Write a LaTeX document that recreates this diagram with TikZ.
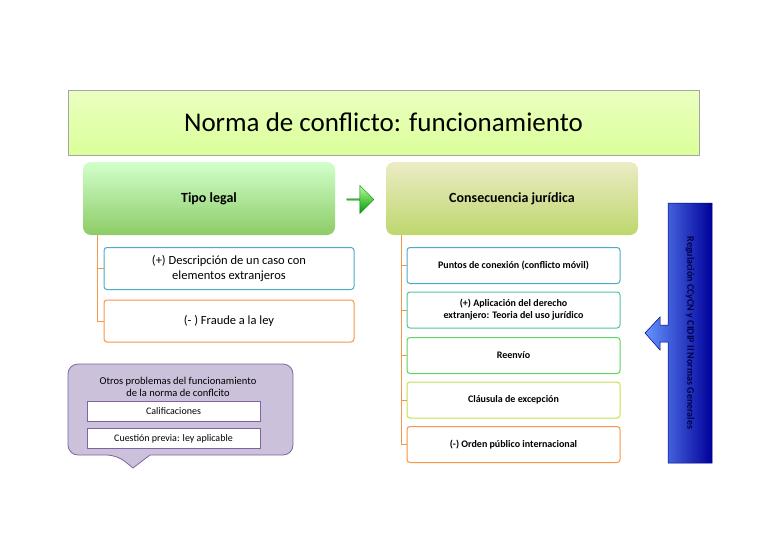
\documentclass[tikz,border=0pt]{standalone}
\usepackage{fontspec}
\setmainfont{Carlito}
\usetikzlibrary{shapes.arrows}
\definecolor{tl}{HTML}{4BACC6}
\definecolor{org}{HTML}{F79646}
\definecolor{gr}{HTML}{5CD65C}
\definecolor{tg}{HTML}{4FC79B}
\definecolor{yg}{HTML}{C6E04A}
\definecolor{pur}{HTML}{8064A2}
\tikzset{
 leaf/.style={draw, line width=1pt, rounded corners=3pt, fill=white, align=center, font=\bfseries\fontsize{10}{12}\selectfont},
 bigleaf/.style={leaf, font=\fontsize{12.5}{15}\selectfont, minimum width=250pt, minimum height=42pt},
 rleaf/.style={leaf, minimum width=213pt, minimum height=36pt},
 head/.style={rounded corners=8pt, minimum width=252pt, minimum height=73pt, font=\bfseries\fontsize{14}{17}\selectfont},
 tree/.style={org, line width=0.8pt},
 inbox/.style={draw=pur, fill=white, line width=0.8pt, minimum width=173pt, minimum height=20pt, font=\fontsize{10}{12}\selectfont}
}
\begin{document}
\begin{tikzpicture}[x=1pt,y=-1pt]
\useasboundingbox (0,0) rectangle (768,543);
\node[draw=black!35, top color=white!70!green!25!lime!30, bottom color=green!15!lime!40!white, minimum width=631pt, minimum height=65pt, font=\fontsize{27}{32}\selectfont] (title) at (383.5,122.5) {Norma de conflicto: funcionamiento};
\node[head, top color=lime!15!green!20!white, bottom color=lime!50!green!50!white!80!black] (tipo) at (209,198.5) {Tipo legal};
\node[head, top color=olive!15!white, bottom color=olive!35!white!90!green] (cons) at (512,198.5) {Consecuencia jurídica};
\node[single arrow, draw=green!50!black, top color=lime!40!green!40!white, bottom color=green!60!black, minimum height=27pt, minimum width=28pt, single arrow head extend=4pt, inner sep=0pt] (garr) at (360,199.5) {};
\node[bigleaf, draw=tl] (a1) at (229,268.5) {(+) Descripción de un caso con\\elementos extranjeros};
\node[bigleaf, draw=org, font=\fontsize{12.5}{15}\selectfont] (a2) at (229,321) {(- ) Fraude a la ley};
\coordinate (ta) at (97,235);
\draw[tree] (ta) |- (a2.west);
\draw[tree] (ta|-a1.west) -- (a1.west);
\node[rleaf, draw=tl] (b1) at (513.5,265.5) {Puntos de conexión (conflicto móvil)};
\node[rleaf, draw=tg] (b2) at (513.5,310) {(+) Aplicación del derecho\\extranjero: Teoria del uso jurídico};
\node[rleaf, draw=gr] (b3) at (513.5,355.5) {Reenvío};
\node[rleaf, draw=yg] (b4) at (513.5,400) {Cláusula de excepción};
\node[rleaf, draw=org] (b5) at (513.5,444.5) {(-) Orden público internacional};
\coordinate (tb) at (401,235);
\draw[tree] (tb) |- (b5.west);
\foreach \n in {b1,b2,b3,b4} \draw[tree] (tb|-\n.west) -- (\n.west);
\draw[draw=pur, fill=pur!40!white, line width=0.8pt, rounded corners=10pt] (150,455) -- (293,455) -- (293,364) -- (68,364) -- (68,455) -- (117,455)[sharp corners] -- (133,468) -- cycle;
\node[align=center, font=\fontsize{10.5}{12.5}\selectfont] (ot) at (178,387) {Otros problemas del funcionamiento\\de la norma de conflcito};
\node[inbox] (c1) at (173.5,411) {Calificaciones};
\node[inbox] (c2) at (173.5,438.5) {Cuestión previa: ley aplicable};
\draw[draw=blue!50!black, left color=blue!70!cyan!60!white, right color=blue!60!black, line width=0.5pt] (668,203) -- (712,203) -- (712,463) -- (668,463) -- (668,342) -- (660,342) -- (660,350) -- (645,333) -- (660,317) -- (660,325) -- (668,325) -- cycle;
\node[rotate=-90, font=\bfseries\fontsize{10}{12}\selectfont, text=blue!30!black] (reg) at (690,333) {Regulación CCyCN y CIDIP II Normas Generales};
\end{tikzpicture}
\end{document}
